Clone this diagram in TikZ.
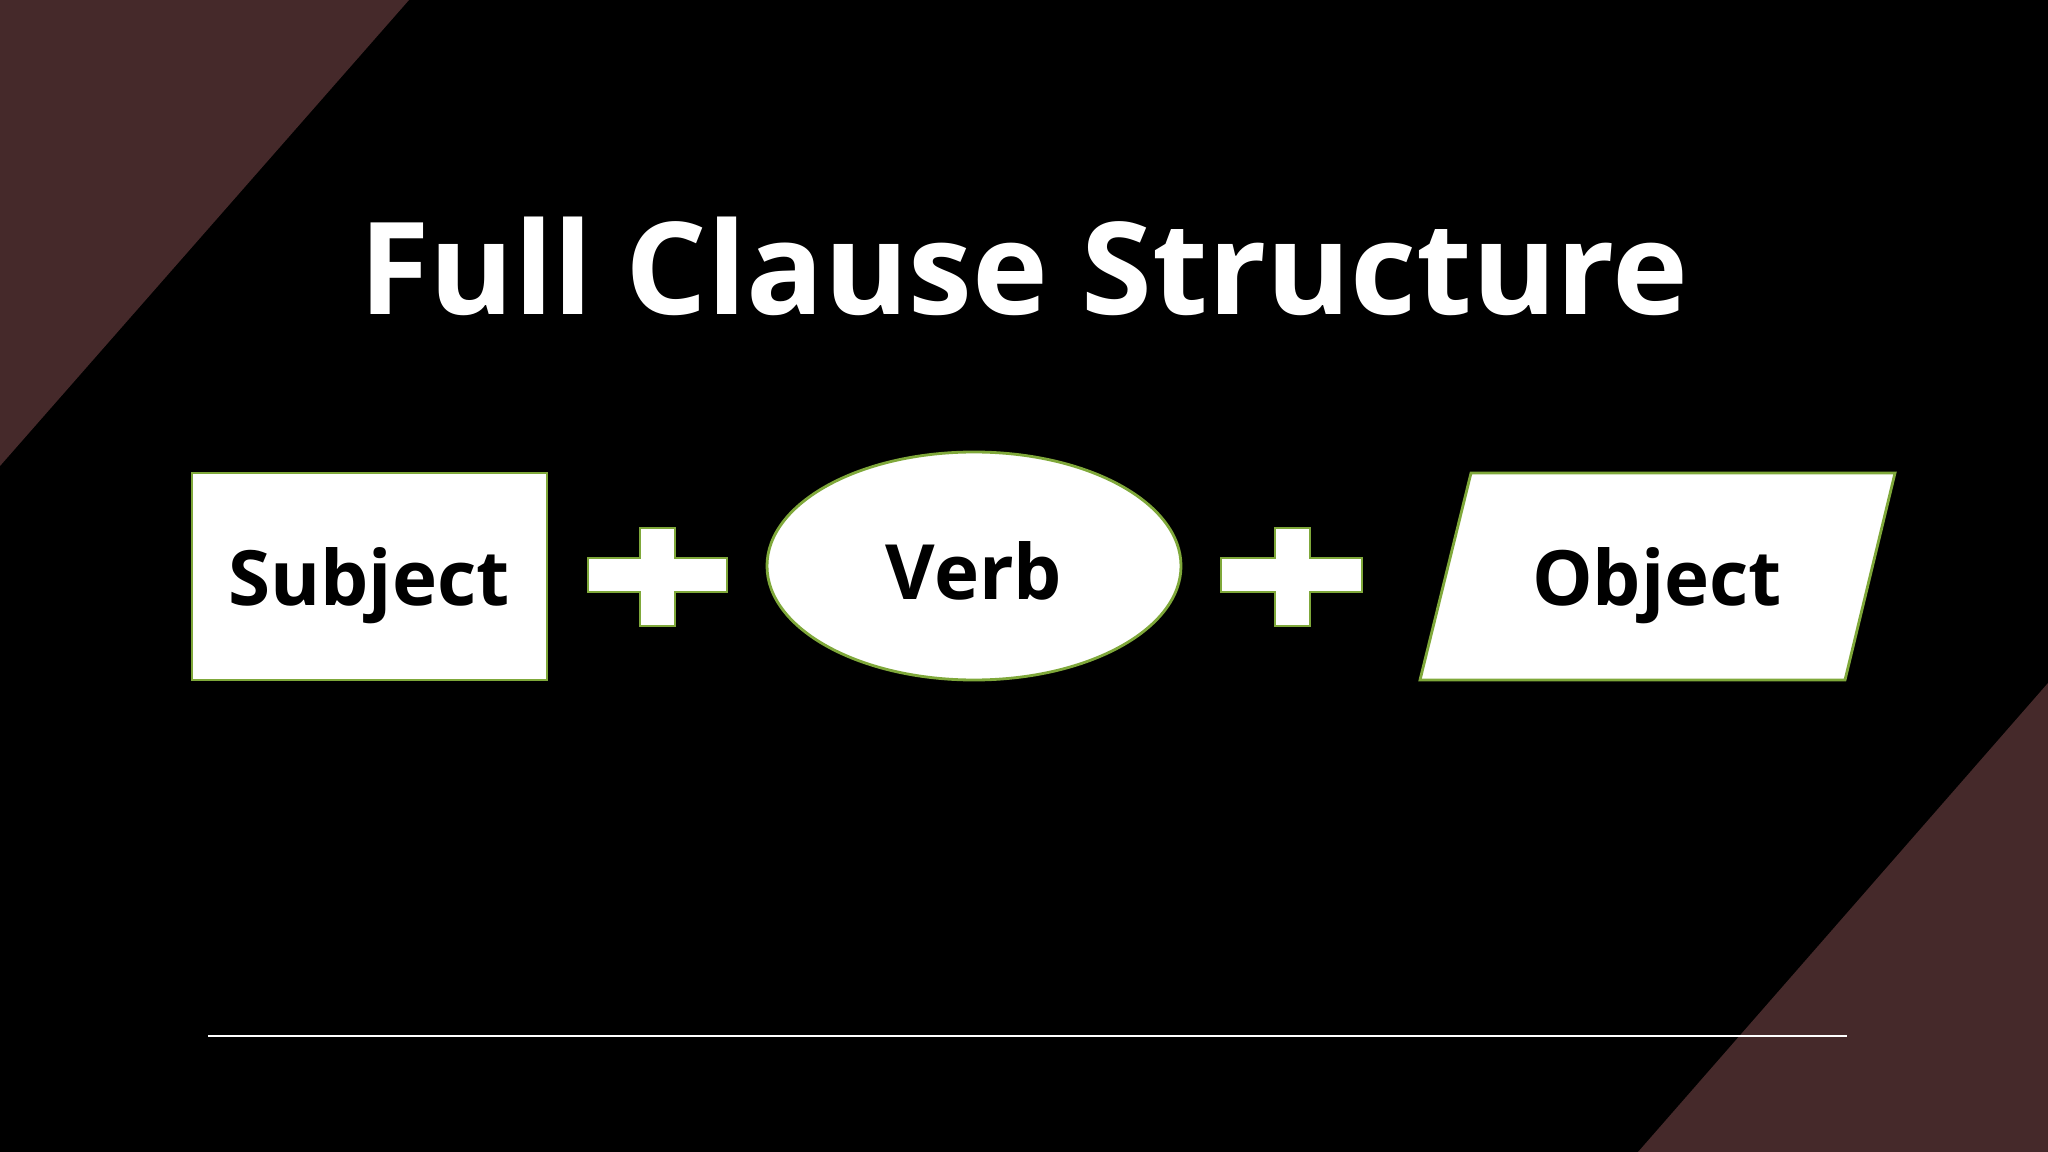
\documentclass[tikz,border=0pt]{standalone}
\usepackage{fontspec}
\setmainfont{Open Sans}
\usetikzlibrary{shapes.geometric}
\definecolor{brn}{HTML}{45292A}
\definecolor{grn}{HTML}{7FA83A}
\begin{document}
\begin{tikzpicture}[x=0.01cm,y=-0.01cm,
  shp/.style={fill=white,draw=grn,line width=0.8pt},
  lbl/.style={font=\fontsize{21.7}{25}\selectfont\bfseries,text=black}]
\useasboundingbox (0,0) rectangle (2048,1152);
\fill[black] (0,0) rectangle (2048,1152);
\fill[brn] (0,0) -- (409,0) -- (0,466) -- cycle;
\fill[brn] (2048,683) -- (2048,1152) -- (1638,1152) -- cycle;
\node[font=\fontsize{36.5}{42}\selectfont\bfseries,text=white] (title) at (1024,266) {Full Clause Structure};
\draw[shp] (192,473) rectangle (547,680);
\node[lbl] (subj) at (369,586) {Subject};
\draw[shp] (640,528) -- (675,528) -- (675,558) -- (727,558) -- (727,592) -- (675,592) -- (675,626) -- (640,626) -- (640,592) -- (588,592) -- (588,558) -- (640,558) -- cycle;
\draw[shp] (974,566) ellipse [x radius=207, y radius=114];
\node[lbl] (verb) at (974,571) {Verb};
\draw[shp] (1275,528) -- (1310,528) -- (1310,558) -- (1362,558) -- (1362,592) -- (1310,592) -- (1310,626) -- (1275,626) -- (1275,592) -- (1221,592) -- (1221,558) -- (1275,558) -- cycle;
\draw[shp] (1471,473) -- (1895,473) -- (1845,680) -- (1420,680) -- cycle;
\node[lbl] (obj) at (1657,586) {Object};
\draw[white,line width=0.8pt] (208,1036) -- (1847,1036);
\end{tikzpicture}
\end{document}
